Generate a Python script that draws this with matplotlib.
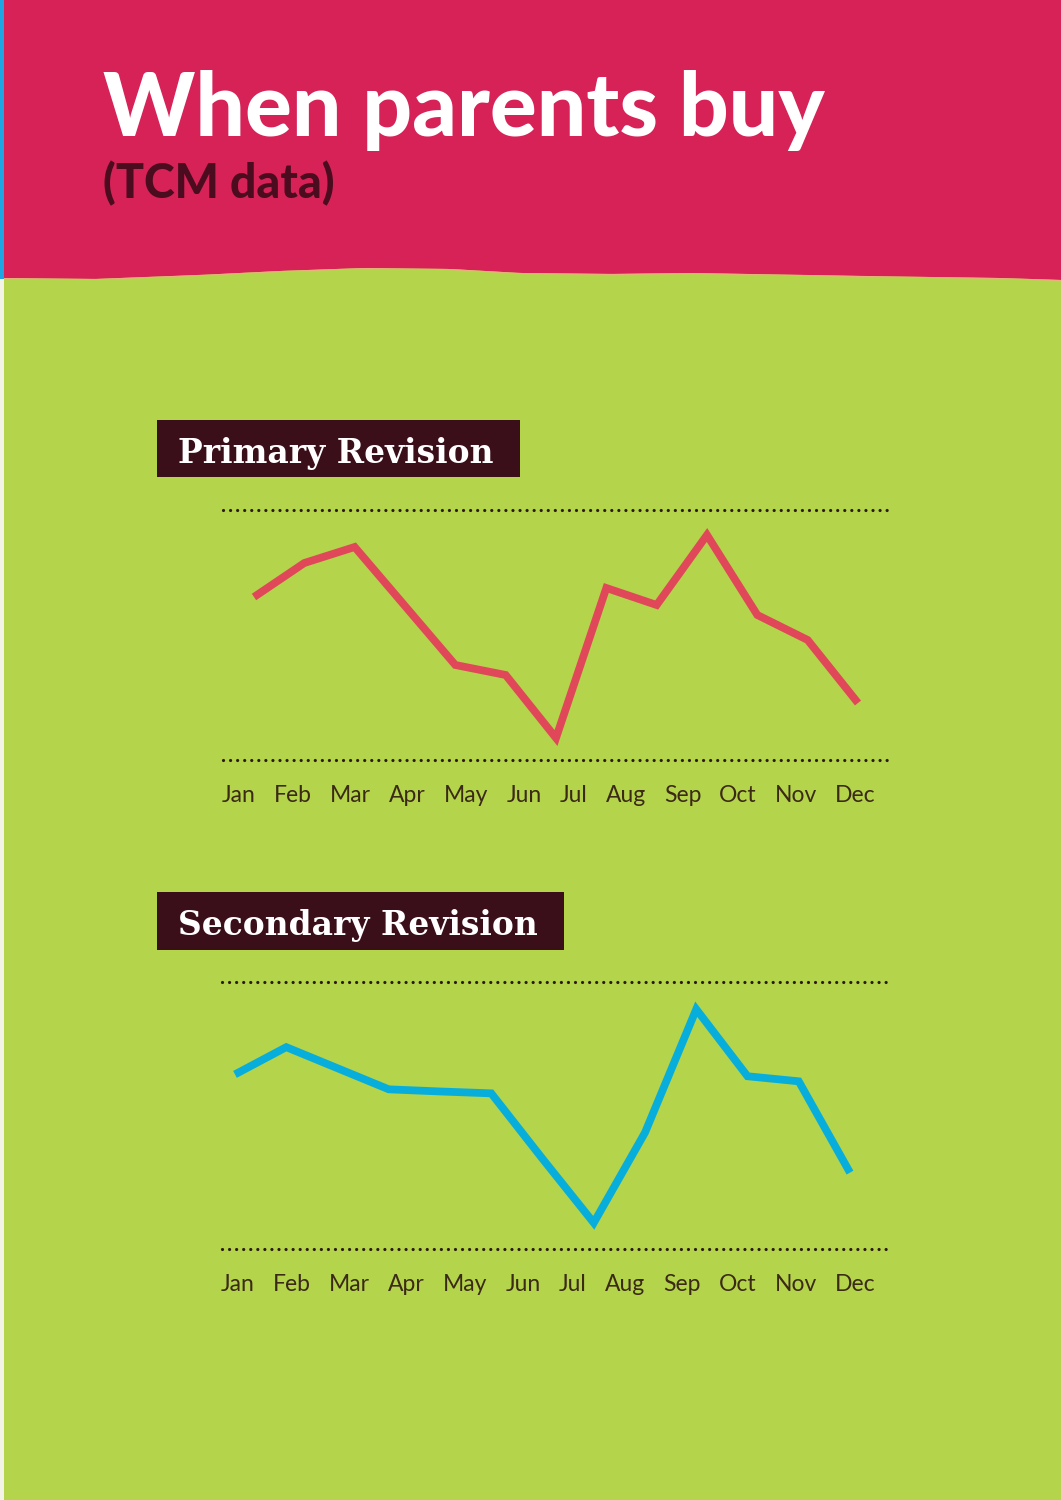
import numpy as np
import matplotlib
matplotlib.use("Agg")
import matplotlib.pyplot as plt
from matplotlib.patches import Rectangle, Polygon

# ---------------- data ----------------
months = ["Jan", "Feb", "Mar", "Apr", "May", "Jun", "Jul", "Aug", "Sep", "Oct", "Nov", "Dec"]
# 13 plotted points per series (relative purchase level, 0 = bottom rule, 100 = top rule)
primary_values = [65.2, 78.8, 85.2, 61.6, 38.0, 34.0, 8.8, 68.8, 62.0, 90.0, 58.0, 48.0, 22.8]
secondary_values = [65.4, 75.6, 67.7, 59.8, 59.0, 58.3, 33.8, 9.8, 43.6, 89.8, 64.7, 62.8, 28.6]
title = "When parents buy"
subtitle = "(TCM data)"
chart_titles = ["Primary Revision", "Secondary Revision"]

# ---------------- style ----------------
W, H = 1061, 1500
GREEN = "#B4D44C"
MAGENTA = "#D62257"
DARK = "#3B0F1A"
RED = "#E0485A"
BLUE = "#08AEDB"
LABEL = "#3B2A16"

fig = plt.figure(figsize=(W / 100, H / 100), dpi=100)
fig.patch.set_facecolor(GREEN)
bg = fig.add_axes([0, 0, 1, 1])
bg.set_xlim(0, W)
bg.set_ylim(H, 0)
bg.axis("off")
bg.set_facecolor(GREEN)

# header band with gently wavy lower edge
wx = [0, 95, 200, 280, 365, 450, 520, 610, 690, 860, 1000, 1061]
wy = [278, 279, 275, 271, 268, 269, 273, 274, 273, 276, 278, 280]
xs = np.linspace(0, W, 200)
ys = np.interp(xs, wx, wy)
bg.add_patch(Polygon(np.column_stack([np.r_[xs, W, 0], np.r_[ys, 0, 0]]),
                     closed=True, facecolor=MAGENTA, edgecolor="none", zorder=1))
bg.plot(xs, ys + 0.5, color="#E6B27A", lw=0.8, zorder=1.5)
bg.add_patch(Rectangle((0, 0), 4, 279, facecolor="#1FA6E0", edgecolor="none", zorder=2))
bg.add_patch(Rectangle((0, 279), 4, H - 279, facecolor="#F3F4E6", edgecolor="none", zorder=2))

renderer = fig.canvas.get_renderer()


def px_width(t):
    bb = t.get_window_extent(renderer=renderer)
    return bb.width


def fit_text(x, y, s, target_w, size, **kw):
    t = bg.text(x, y, s, fontsize=size, **kw)
    w = px_width(t)
    t.set_fontsize(size * target_w / w)
    return t


fit_text(103, 136, title, 722, 60, color="white", fontweight="black",
         family=["Lato", "DejaVu Sans"], va="baseline", ha="left", zorder=5)
fit_text(103, 198, subtitle, 232, 25, color="#4A0C1E", fontweight="black",
         family=["Lato", "DejaVu Sans"], va="baseline", ha="left", zorder=5)


def add_chart(values, color, box, title_txt, rule_x, rule_y, first_last_x, label_baseline):
    # title box
    bx0, by0, bx1, by1 = box
    bg.add_patch(Rectangle((bx0, by0), bx1 - bx0, by1 - by0, facecolor=DARK,
                           edgecolor="none", zorder=3))
    fit_text(bx0 + 21, by0 + 43, title_txt, (bx1 - bx0) - 47, 24, color="white",
             fontweight="bold", family=["DejaVu Serif", "DejaVu Sans"],
             va="baseline", ha="left", zorder=5)

    # chart axes
    x0, x1 = rule_x
    y0, y1 = rule_y  # top rule, bottom rule (pixels)
    ax = fig.add_axes([x0 / W, 1 - y1 / H, (x1 - x0) / W, (y1 - y0) / H])
    ax.set_facecolor("none")
    n = len(values)
    fx0, fx1 = first_last_x
    step = (fx1 - fx0) / (n - 1)
    ax.set_xlim((x0 - fx0) / step, (x1 - fx0) / step)
    ax.set_ylim(0, 100)
    ax.axis("off")
    for yv in (0, 100):
        ax.axhline(yv, color="#2A1A0E", lw=2.3, linestyle=(0, (0.01, 2.2)),
                   dash_capstyle="round", clip_on=False)
    ax.plot(np.arange(n), values, color=color, lw=5.6, solid_joinstyle="miter",
            solid_capstyle="butt", clip_on=False, zorder=4)

    # month labels, justified across the rule width
    texts = [bg.text(0, label_baseline, m, fontsize=16.5, color=LABEL,
                     family=["Lato", "DejaVu Sans"], fontweight="normal",
                     va="baseline", ha="left") for m in months]
    widths = [px_width(t) for t in texts]
    left, right = x0 - 1, 876
    gap = (right - left - sum(widths)) / (len(months) - 1)
    pos = left
    for t, w in zip(texts, widths):
        t.set_x(pos)
        pos += w + gap


add_chart(primary_values, RED, (157, 420, 520, 477), chart_titles[0],
          (223, 890), (510, 760), (254, 858), 802)
add_chart(secondary_values, BLUE, (157, 892, 564, 950), chart_titles[1],
          (222, 889), (982, 1249), (235, 850), 1291)

fig.savefig("out.png", dpi=100, facecolor=GREEN)
